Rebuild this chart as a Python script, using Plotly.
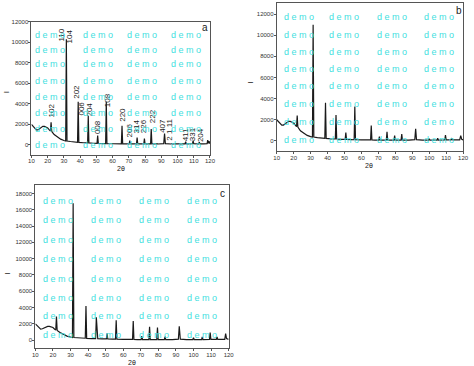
import plotly.graph_objects as go

W, H = 474, 366

# ---------------- data ----------------
# Panel a
a_x = [10, 11, 12, 13, 14, 15, 16, 17, 18, 19, 20, 21, 21.7, 22.1, 22.5, 24, 26, 28, 30,
       31.1, 31.5, 31.9, 34, 36, 38.4, 38.8, 39.2, 42, 44.6, 45.0, 45.4, 48, 50.4, 50.8, 51.2,
       54, 55.7, 56.1, 56.5, 60, 65.4, 65.8, 66.2, 68, 70.2, 70.6, 71.0, 73, 74.7, 75.1, 75.5,
       77, 79.2, 79.6, 80.0, 82, 83.4, 83.8, 84.2, 88, 91.5, 92.0, 92.5, 96, 100, 104.6, 105.0,
       105.4, 107, 109.2, 109.6, 110.0, 112, 113.0, 113.4, 113.8, 116, 118.2, 118.6, 119.0, 119.4, 120]
a_y = [2000, 1800, 1600, 1450, 1450, 1550, 1700, 1800, 1800, 1750, 1650, 1450, 1350, 2200, 1300, 1000, 750, 550, 420,
       380, 10300, 370, 320, 280, 250, 4200, 240, 200, 180, 2800, 180, 150, 140, 900, 140,
       120, 110, 4200, 110, 100, 90, 1850, 90, 80, 80, 400, 80, 80, 80, 700, 80,
       80, 80, 600, 80, 80, 80, 1550, 80, 80, 120, 1100, 120, 80, 80, 80, 300,
       80, 90, 100, 400, 100, 90, 90, 250, 90, 90, 100, 450, 150, 350, 100]

# Panel b
b_x = [10, 11, 12, 13, 14, 15, 16, 17, 18, 19, 20, 21, 21.7, 22.1, 22.5, 24, 26, 28, 30,
       31.1, 31.5, 31.9, 34, 36, 38.4, 38.8, 39.2, 42, 44.6, 45.0, 45.4, 48, 50.4, 50.8, 51.2,
       54, 55.7, 56.1, 56.5, 60, 65.4, 65.8, 66.2, 68, 70.2, 70.6, 71.0, 73, 74.7, 75.1, 75.5,
       77, 79.2, 79.6, 80.0, 82, 83.4, 83.8, 84.2, 88, 91.5, 92.0, 92.5, 96, 99.6, 100.0, 100.4,
       104.6, 105.0, 105.4, 107, 109.2, 109.6, 110.0, 112, 113.0, 113.4, 113.8, 116, 118.0, 118.6, 119.2, 120]
b_y = [2000, 1800, 1600, 1500, 1500, 1600, 1750, 1850, 1850, 1800, 1700, 1500, 1350, 2400, 1300, 950, 700, 520, 400,
       370, 11000, 360, 310, 280, 250, 3600, 240, 200, 180, 2450, 180, 150, 140, 800, 140,
       120, 110, 3250, 110, 100, 90, 1450, 90, 80, 80, 400, 80, 80, 80, 850, 80,
       80, 80, 500, 80, 80, 80, 650, 80, 80, 120, 1150, 120, 80, 80, 200, 80,
       80, 250, 80, 90, 100, 550, 100, 90, 90, 200, 90, 90, 100, 500, 150, 100]

# Panel c
c_x = [10, 11, 12, 13, 14, 15, 16, 17, 18, 19, 20, 21, 21.6, 22.0, 22.4, 24, 26, 28, 30,
       31.1, 31.5, 31.9, 34, 36, 38.4, 38.8, 39.2, 42, 44.3, 44.7, 45.1, 45.5, 48, 50.4, 50.8, 51.2,
       54, 55.6, 56.0, 56.4, 60, 65.3, 65.7, 66.1, 68, 70.2, 70.6, 71.0, 73, 74.6, 75.0, 75.4,
       77, 79.1, 79.5, 79.9, 82, 83.4, 83.8, 84.2, 88, 91.4, 91.9, 92.5, 96, 99.6, 100.0, 100.4,
       104.6, 105.0, 105.4, 107, 109.1, 109.5, 109.9, 112, 113.0, 113.4, 113.8, 116, 117.8, 118.3, 118.8, 120]
c_y = [2000, 1750, 1500, 1350, 1400, 1500, 1650, 1700, 1700, 1650, 1550, 1350, 1250, 2900, 1200, 950, 700, 500, 380,
       340, 16800, 330, 300, 270, 240, 4200, 230, 200, 190, 2800, 1200, 190, 160, 150, 850, 150,
       130, 120, 2450, 120, 100, 90, 2350, 90, 80, 80, 500, 80, 80, 80, 1650, 80,
       80, 80, 1550, 80, 80, 80, 450, 80, 80, 120, 1700, 120, 80, 80, 300, 80,
       80, 400, 80, 90, 100, 950, 100, 90, 90, 400, 90, 90, 100, 800, 200, 100]

# Peak labels in panel a: text, 2theta position, intensity position
peak_text = ["102", "110", "104", "202", "006", "204", "008", "108", "220", "206",
             "314", "226", "222", "407", "2 1 11", "411", "331", "204"]
peak_x = [22.3, 28.7, 33.6, 37.8, 40.8, 45.7, 51.1, 56.5, 65.6, 70.4,
          74.7, 79.5, 84.3, 91.0, 95.2, 104.9, 109.7, 114.6]
peak_y = [3390, 10740, 10550, 5130, 3580, 3480, 1740, 4350, 2900, 1450,
          1840, 1840, 2800, 1840, 1450, 970, 1060, 970]

x_ticks = [10, 20, 30, 40, 50, 60, 70, 80, 90, 100, 110, 120]
a_yticks = [0, 2000, 4000, 6000, 8000, 10000, 12000]
b_yticks = [0, 2000, 4000, 6000, 8000, 10000, 12000]
c_yticks = [0, 2000, 4000, 6000, 8000, 10000, 12000, 14000, 16000, 18000]

# ---------------- figure ----------------
line_style = dict(color="#1a1a1a", width=1.2)
fig = go.Figure()
fig.add_trace(go.Scatter(x=a_x, y=a_y, mode="lines", line=line_style, xaxis="x", yaxis="y", showlegend=False))
fig.add_trace(go.Scatter(x=b_x, y=b_y, mode="lines", line=line_style, xaxis="x2", yaxis="y2", showlegend=False))
fig.add_trace(go.Scatter(x=c_x, y=c_y, mode="lines", line=line_style, xaxis="x3", yaxis="y3", showlegend=False))

tickfont = dict(family="Arial, Liberation Sans, sans-serif", size=6, color="#333")
ax_common = dict(showline=True, mirror=True, linecolor="#555", linewidth=1, showgrid=False,
                 zeroline=False, ticks="outside", ticklen=2, tickcolor="#555", tickfont=tickfont,
                 tickformat="d")
xa = dict(ax_common, ticklabelstandoff=-2)
ya = dict(ax_common, ticklabelstandoff=-1)


def px(v):
    return v / W


def py(v):
    return 1 - v / H


fig.update_layout(
    width=W, height=H, autosize=False,
    margin=dict(l=0, r=0, t=0, b=0),
    paper_bgcolor="white", plot_bgcolor="white",
    xaxis=dict(domain=[px(29), px(211)], range=[10, 120], tickvals=x_ticks, anchor="y", **xa),
    yaxis=dict(domain=[py(153.3), py(19)], range=[-1000, 12000], tickvals=a_yticks, anchor="x", **ya),
    xaxis2=dict(domain=[px(279), px(469)], range=[10, 120], tickvals=x_ticks, anchor="y2", **xa),
    yaxis2=dict(domain=[py(149.7), py(0.5)], range=[-1000, 13000], tickvals=b_yticks, anchor="x2", **ya),
    xaxis3=dict(domain=[px(33), px(230)], range=[10, 120], tickvals=x_ticks, anchor="y3", **xa),
    yaxis3=dict(domain=[py(348.2), py(183.8)], range=[-1000, 19000], tickvals=c_yticks, anchor="x3", **ya),
)

annotations = []
font_lbl = dict(family="Arial, Liberation Sans, sans-serif", size=8, color="#222")

# peak labels (panel a)
for t, x, y in zip(peak_text, peak_x, peak_y):
    annotations.append(dict(text=t, x=x, y=y, xref="x", yref="y", showarrow=False, textangle=-90,
                            font=font_lbl, xanchor="center", yanchor="middle"))

# axis titles and panel letters (pixel positions)
for t, x, y, ang in [("I", 3, 90, -90), ("2θ", 120, 167, 0), ("a", 206, 25, 0),
                     ("I", 252, 80, -90), ("2θ", 373, 164, 0), ("b", 465, 8, 0),
                     ("I", 5, 273, -90), ("2θ", 131, 362, 0), ("c", 224, 192, 0)]:
    f = dict(font_lbl)
    if t in ("a", "b", "c"):
        f["size"] = 10
    elif t == "2θ":
        f["size"] = 7
    annotations.append(dict(text=t, x=px(x), y=py(y), xref="paper", yref="paper", showarrow=False,
                            textangle=ang, font=f, xanchor="center", yanchor="middle"))

# watermark grid
wm_font = dict(family="Arial, Liberation Sans, sans-serif", size=9, color="#3fe0e0")
grids = [
    ([48, 97, 142, 187], [32, 47, 62, 79, 95, 111, 127, 143]),
    ([302, 348, 397, 444], [14, 32, 49, 67, 84, 102, 120, 138]),
    ([56, 105, 154, 203], [200, 219, 239, 258, 278, 297, 316, 335]),
]
for cols, rows in grids:
    for cx in cols:
        for ry in rows:
            annotations.append(dict(text="d e m o", x=px(cx), y=py(ry), xref="paper", yref="paper",
                                    showarrow=False, font=wm_font, xanchor="center", yanchor="middle"))

fig.update_layout(annotations=annotations)
fig.write_html(
    "out.html",
    config={"displayModeBar": False},
    post_script="document.body.style.margin='0';document.body.style.overflow='hidden';",
)
